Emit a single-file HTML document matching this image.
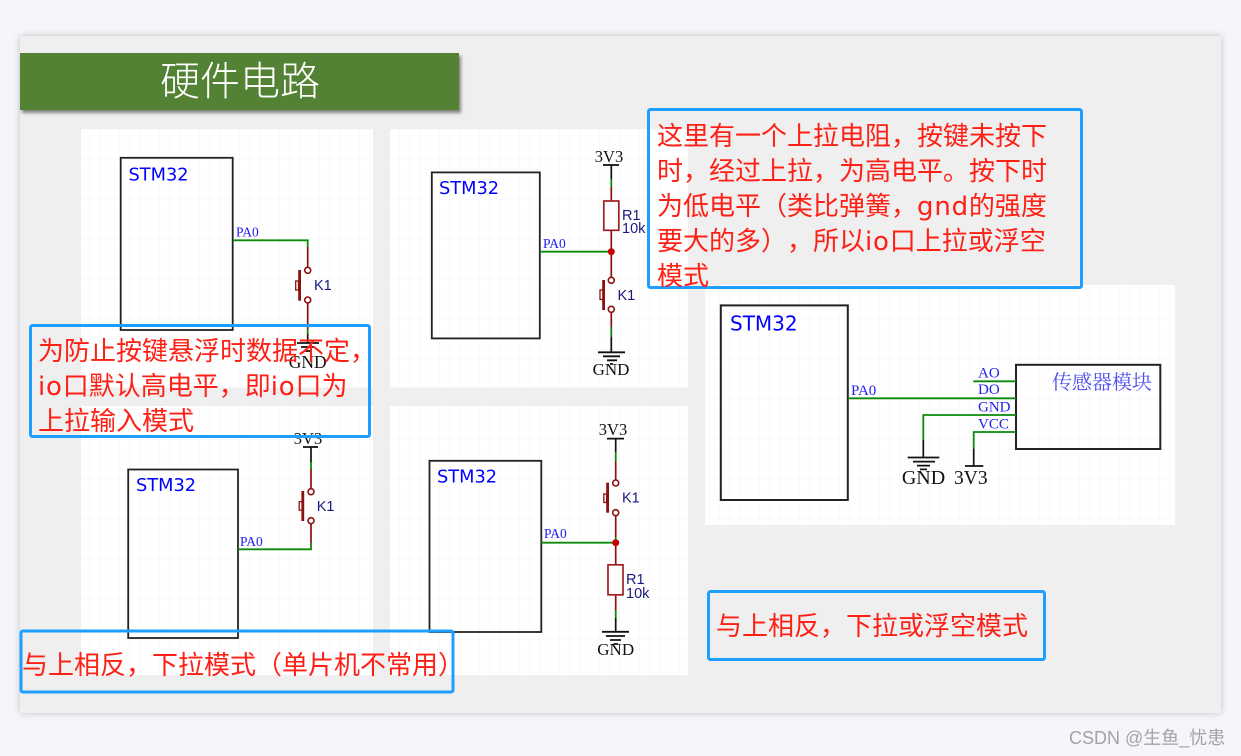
<!DOCTYPE html>
<html lang="zh">
<head>
<meta charset="utf-8">
<title>硬件电路</title>
<style>
html,body{margin:0;padding:0;background:#f5f6f9;}
body{width:1241px;height:756px;position:relative;overflow:hidden;}
#slide{position:absolute;left:20px;top:36px;width:1201px;height:677px;background:#efefef;box-shadow:0 0 7px rgba(0,0,0,.22);}
#banner{position:absolute;left:20px;top:53px;width:439px;height:57px;background:#548235;box-shadow:2px 3px 3px rgba(0,0,0,.45);}
svg{position:absolute;left:0;top:0;}
text{text-spacing-trim:space-all;}
.cjk{font-family:"Liberation Sans","Noto Sans CJK SC",sans-serif;}
.note{font-family:"DejaVu Sans","Noto Sans CJK SC",sans-serif;font-size:26px;fill:#ff2015;}
.note tspan{letter-spacing:.8px;}
.stm{font-family:"DejaVu Sans",sans-serif;fill:#0000ff;font-size:17.8px;}
.pin{font-family:"Liberation Serif",serif;fill:#2020ee;font-size:13.5px;}
.pw{font-family:"Liberation Serif",serif;fill:#111;font-size:16.5px;text-anchor:middle;}
.ref{font-family:"Liberation Sans",sans-serif;fill:#1a1a80;font-size:14.5px;}
.box{fill:none;stroke:#222;stroke-width:1.8;}
.g{stroke:#0a8a0a;stroke-width:1.8;fill:none;}
.r{stroke:#8b1010;stroke-width:1.7;fill:none;}
.k{stroke:#111;stroke-width:1.7;fill:none;}
.kb{stroke:#111;stroke-width:1.8;fill:none;}
.sw{stroke:#8b1010;stroke-width:1.6;fill:#fff;}
.swbar{fill:#8b1010;}
.swr{fill:#fff;stroke:#8b1010;stroke-width:1.3;}
.dot{fill:#c80000;}
.blue{fill:none;stroke:#1e9fff;stroke-width:3;}
</style>
</head>
<body>
<div id="slide"></div>
<div id="banner"></div>
<svg width="1241" height="756" viewBox="0 0 1241 756" xmlns="http://www.w3.org/2000/svg">
<defs>
<pattern id="grid" width="10" height="10" patternUnits="userSpaceOnUse">
<rect width="10" height="10" fill="#ffffff"/>
<path d="M10 0V10M0 10H10" stroke="#f5f5f5" stroke-width="1" fill="none"/>
</pattern>
</defs>

<text x="160" y="95" font-size="40" fill="#ffffff" font-family="Noto Sans CJK SC, sans-serif" font-weight="300">硬件电路</text>

<rect x="81" y="129" width="292" height="258.5" fill="url(#grid)"/>
<rect x="81" y="406" width="292" height="269" fill="url(#grid)"/>
<rect x="390" y="129" width="298" height="258.5" fill="url(#grid)"/>
<rect x="390" y="406" width="298" height="269" fill="url(#grid)"/>
<rect x="705" y="285" width="470" height="240" fill="url(#grid)"/>

<!-- Circuit 1 -->
<rect class="box" x="120.7" y="157.8" width="112" height="172.2"/>
<text class="stm" x="128.5" y="180.5">STM32</text>
<text class="pin" x="236" y="236.5">PA0</text>
<path class="g" d="M233 240.3H307.7V247"/>
<path class="r" d="M307.7 247V267M307.7 303V329"/>
<path class="g" d="M307.7 329V334"/>
<path class="k" d="M307.7 334V343"/>
<path class="kb" d="M297 343H319M301 347H314M304 351H311"/>
<circle class="sw" cx="307.7" cy="270.3" r="3"/>
<circle class="sw" cx="307.7" cy="300" r="3"/>
<rect class="swbar" x="298.2" y="270" width="2.8" height="30.7"/>
<rect class="swr" x="295.7" y="281" width="2.8" height="9"/>
<text class="ref" x="314" y="290">K1</text>
<text class="pw" x="307.7" y="368" style="font-size:17.5px">GND</text>

<!-- Circuit 2 -->
<rect class="box" x="431.8" y="172.4" width="108" height="166"/>
<text class="stm" x="439" y="194">STM32</text>
<text class="pin" x="543" y="248">PA0</text>
<text class="pw" x="609" y="162">3V3</text>
<path class="kb" d="M603 165H619"/>
<path class="k" d="M611.3 165V179"/>
<path class="g" d="M611.3 179V187"/>
<path class="r" d="M611.3 187V201"/>
<rect x="603.8" y="201" width="15" height="29.3" fill="none" stroke="#a02020" stroke-width="1.7"/>
<path class="r" d="M611.3 230V277M611.3 312V327"/>
<path class="g" d="M540 251.7H611.3M611.3 327V337"/>
<path class="k" d="M611.3 337V352"/>
<path class="kb" d="M598 352.3H625M603 356.3H620M607 360.3H617M610 364H613"/>
<circle class="dot" cx="611.3" cy="251.7" r="3.5"/>
<circle class="sw" cx="611.3" cy="280.3" r="3"/>
<circle class="sw" cx="611.3" cy="309.3" r="3"/>
<rect class="swbar" x="602.2" y="280" width="2.8" height="30"/>
<rect class="swr" x="600" y="290" width="2.8" height="9.5"/>
<text class="ref" x="617.5" y="300">K1</text>
<text class="ref" x="622" y="220">R1</text>
<text class="ref" x="622" y="233">10k</text>
<text class="pw" x="611" y="375" style="font-size:17px">GND</text>

<!-- Circuit 3 -->
<rect class="box" x="429.5" y="460.8" width="111.8" height="171.2"/>
<text class="stm" x="437" y="482.5">STM32</text>
<text class="pin" x="544" y="538">PA0</text>
<text class="pw" x="613" y="435">3V3</text>
<path class="kb" d="M607 438.6H624"/>
<path class="k" d="M615.7 438.6V452"/>
<path class="g" d="M615.7 452V461"/>
<path class="r" d="M615.7 461V480M615.7 516V537M615.7 543V564.8M615.7 595V610"/>
<path class="g" d="M541.3 542.7H615.7M615.7 537V543M615.7 610V618"/>
<path class="k" d="M615.7 618V631.7"/>
<rect x="608" y="564.8" width="15" height="30" fill="none" stroke="#a02020" stroke-width="1.7"/>
<path class="kb" d="M602 631.8H629M606 636H625M610 640H621M613.5 644H618"/>
<circle class="dot" cx="615.7" cy="542.7" r="3.5"/>
<circle class="sw" cx="615.7" cy="483" r="3"/>
<circle class="sw" cx="615.7" cy="512.7" r="3"/>
<rect class="swbar" x="606.2" y="482.7" width="2.8" height="30"/>
<rect class="swr" x="603.8" y="494" width="2.8" height="8.5"/>
<text class="ref" x="622" y="502.5">K1</text>
<text class="ref" x="626" y="584">R1</text>
<text class="ref" x="626" y="598">10k</text>
<text class="pw" x="615.7" y="655" style="font-size:17px">GND</text>

<!-- Circuit 4 -->
<rect class="box" x="128.2" y="469.5" width="109.8" height="168.5"/>
<text class="stm" x="136" y="491">STM32</text>
<text class="pin" x="240" y="546">PA0</text>
<text class="pw" x="308" y="444">3V3</text>
<path class="kb" d="M303 447H318"/>
<path class="k" d="M311 447V462"/>
<path class="g" d="M311 462V469M238 549.3H311V543"/>
<path class="r" d="M311 469V489M311 524V543"/>
<circle class="sw" cx="311" cy="491.7" r="3"/>
<circle class="sw" cx="311" cy="520.7" r="3"/>
<rect class="swbar" x="301.4" y="491" width="2.8" height="30"/>
<rect class="swr" x="299.2" y="501.7" width="2.8" height="8.5"/>
<text class="ref" x="316.7" y="511">K1</text>

<!-- Circuit 5 -->
<rect class="box" x="720.8" y="305.4" width="127" height="194.6" style="stroke-width:2"/>
<text class="stm" x="730" y="330.5" style="font-size:20px">STM32</text>
<text class="pin" x="851" y="395" style="font-size:15px">PA0</text>
<rect class="box" x="1016" y="364.8" width="144.3" height="84.2" style="stroke-width:2"/>
<path class="g" d="M973.3 381.3H1016M848 398.3H1016M1016 415H923.3V440M1016 432H973.7V448.3"/>
<path class="k" d="M923.3 440V457.3M973.7 448.3V466"/>
<path class="kb" d="M907.7 457.5H939.3M913 461.6H935M917 465.6H930M920 469.4H927M965 466H983.3"/>
<text class="pin" x="978" y="377.3" style="font-size:15px">AO</text>
<text class="pin" x="978" y="394" style="font-size:15px">DO</text>
<text class="pin" x="978" y="411.7" style="font-size:15px">GND</text>
<text class="pin" x="978" y="428.3" style="font-size:15px">VCC</text>
<text x="1052" y="389" font-size="20" fill="#5050ee" font-family="Noto Serif CJK SC, serif">传感器模块</text>
<text class="pw" x="923.5" y="484" style="font-size:20px">GND</text>
<text class="pw" x="970.8" y="484" style="font-size:19.5px">3V3</text>

<!-- Notes -->
<rect class="blue" x="30.5" y="325.5" width="339" height="111" rx="2"/>
<text class="note" x="38" y="360">为防止按键悬浮时数据不定，</text>
<text class="note" x="38" y="395"><tspan>io</tspan>口默认高电平，即<tspan>io</tspan>口为</text>
<text class="note" x="38" y="430">上拉输入模式</text>

<rect class="blue" x="648.5" y="109.5" width="433" height="178" rx="2"/>
<text class="note" x="657" y="145">这里有一个上拉电阻，按键未按下</text>
<text class="note" x="657" y="180">时，经过上拉，为高电平。按下时</text>
<text class="note" x="657" y="215">为低电平（类比弹簧，<tspan>gnd</tspan>的强度</text>
<text class="note" x="657" y="250">要大的多），所以<tspan>io</tspan>口上拉或浮空</text>
<text class="note" x="657" y="285">模式</text>

<rect class="blue" x="21" y="631" width="432" height="61" rx="2"/>
<text class="note" x="22" y="674">与上相反，下拉模式（单片机不常用）</text>

<rect class="blue" x="708.5" y="591.5" width="336" height="68" rx="2"/>
<text class="note" x="716" y="635">与上相反，下拉或浮空模式</text>

<text x="1069" y="744" font-size="18" fill="#a3a3a3" class="cjk">CSDN @生鱼_忧患</text>
</svg>
</body>
</html>
